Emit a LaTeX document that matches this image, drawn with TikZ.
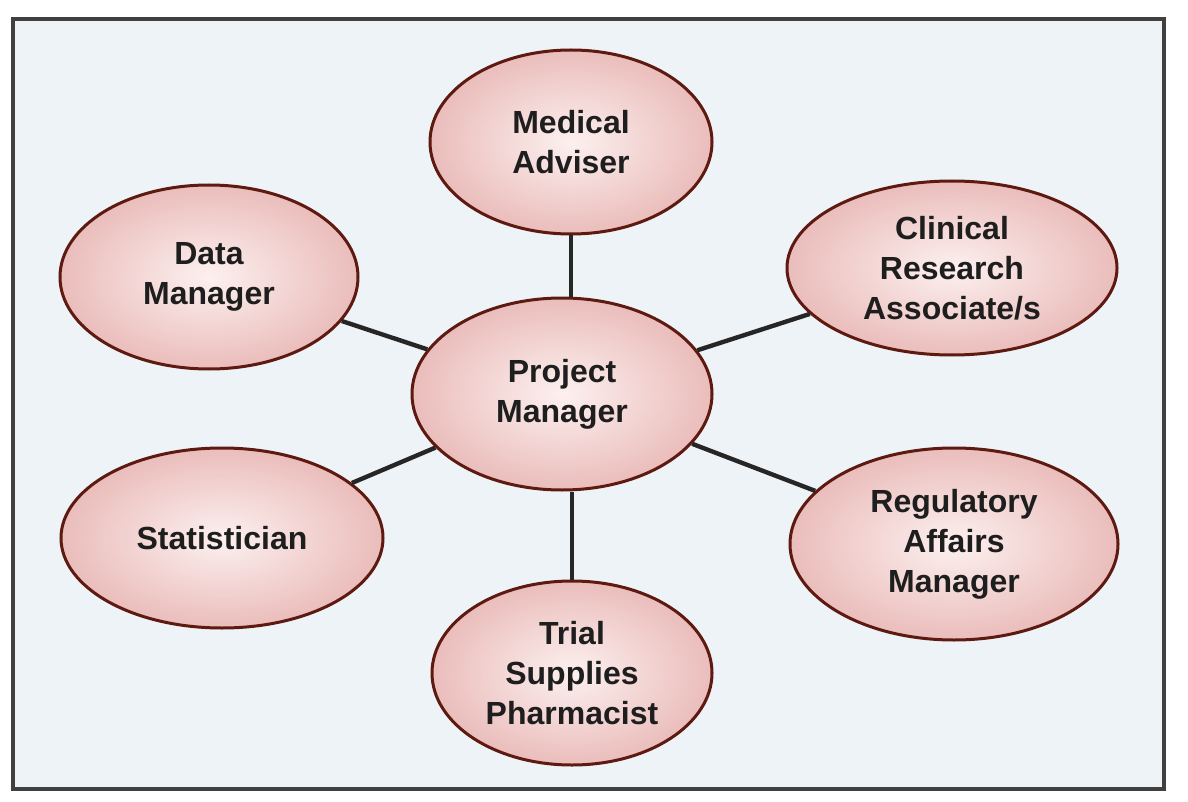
\documentclass[tikz,border=0pt]{standalone}
\usepackage{fontspec}
\setmainfont{Liberation Sans}
\usetikzlibrary{shapes.geometric}
\definecolor{bg}{HTML}{EEF3F7}
\definecolor{rim}{HTML}{5E1A10}
\definecolor{inner}{HTML}{FCF0EF}
\definecolor{outer}{HTML}{EABDBB}
\definecolor{txt}{HTML}{1E1E1E}
\begin{document}
\begin{tikzpicture}[x=0.5pt,y=-0.5pt,
  bub/.style={ellipse,draw=rim,line width=1.5pt,inner color=inner,outer color=outer,
    text=txt,font=\bfseries\fontsize{16}{20}\selectfont,align=center,inner sep=0pt},
  link/.style={line width=2.2pt,draw=black!85}]
\useasboundingbox (0,0) rectangle (1188,802);
\fill[white] (0,0) rectangle (1188,802);
\draw[fill=bg,draw=black!75,line width=2pt] (13,19) rectangle (1164,789);
\node[bub,minimum width=150pt,minimum height=96pt] (pm) at (562,394) {Project\\Manager};
\node[bub,minimum width=141pt,minimum height=92pt] (ma) at (571,142) {Medical\\Adviser};
\node[bub,minimum width=149pt,minimum height=92pt] (dm) at (209,277) {Data\\Manager};
\node[bub,minimum width=165pt,minimum height=87pt] (cr) at (952,268) {Clinical\\Research\\Associate/s};
\node[bub,minimum width=161pt,minimum height=90pt] (st) at (222,538) {Statistician};
\node[bub,minimum width=164pt,minimum height=96pt] (ra) at (954,544) {Regulatory\\Affairs\\Manager};
\node[bub,minimum width=140pt,minimum height=92pt] (tp) at (572,673) {Trial\\Supplies\\Pharmacist};
\draw[link] (ma.south) -- (ma.south |- pm.north);
\draw[link] (tp.north) -- (tp.north |- pm.south);
\foreach \n in {dm,cr,st,ra}{\draw[link] (pm) -- (\n);}
\end{tikzpicture}
\end{document}
